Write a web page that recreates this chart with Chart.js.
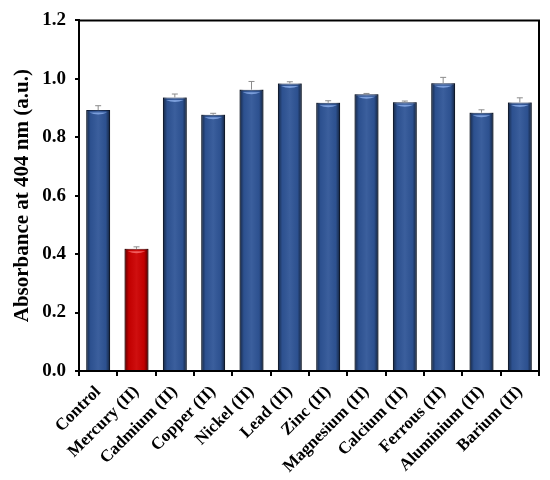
<!DOCTYPE html>
<html>
<head>
<meta charset="utf-8">
<script src="https://cdn.jsdelivr.net/npm/chart.js@4"></script>
<style>
html,body{margin:0;padding:0;background:#fff;}
#wrap{width:550px;height:480px;position:relative;}
</style>
</head>
<body>
<div id="wrap"><canvas id="c" width="550" height="480"></canvas></div>
<script>
const categories = ["Control","Mercury (II)","Cadmium (II)","Copper (II)","Nickel (II)","Lead (II)","Zinc (II)","Magnesium (II)","Calcium (II)","Ferrous (II)","Aluminium (II)","Barium (II)"];
const absorbance = [0.893,0.418,0.936,0.877,0.963,0.984,0.918,0.947,0.920,0.985,0.884,0.919];
const errors = [0.015,0.007,0.012,0.005,0.028,0.006,0.007,0.003,0.004,0.020,0.010,0.016];
const barColors = ["#2f5597","#cc0000","#2f5597","#2f5597","#2f5597","#2f5597","#2f5597","#2f5597","#2f5597","#2f5597","#2f5597","#2f5597"];
const yTicks = [0,0.2,0.4,0.6,0.8,1.0,1.2];

const FONT = "'Liberation Serif','Times New Roman',serif";

const shadePlugin = {
  id: 'shade',
  afterDatasetsDraw(chart) {
    const ctx = chart.ctx;
    const meta = chart.getDatasetMeta(0);
    const ys = chart.scales.y;
    meta.data.forEach((el, i) => {
      const x0 = el.x - el.width / 2, x1 = el.x + el.width / 2;
      const top = el.y, bot = el.base;
      ctx.save();
      const g = ctx.createLinearGradient(x0, 0, x1, 0);
      g.addColorStop(0, 'rgba(0,0,0,0.55)');
      g.addColorStop(0.18, 'rgba(0,0,0,0.05)');
      g.addColorStop(0.5, 'rgba(255,255,255,0.06)');
      g.addColorStop(0.82, 'rgba(0,0,0,0.05)');
      g.addColorStop(1, 'rgba(0,0,0,0.6)');
      ctx.fillStyle = g;
      ctx.fillRect(x0, top, x1 - x0, bot - top);
      const hc = i === 1 ? 'rgba(255,120,120,0.75)' : 'rgba(140,175,235,0.8)';
      ctx.fillStyle = hc;
      ctx.beginPath();
      ctx.moveTo(x0 + 3, top + 2.5);
      ctx.lineTo(x1 - 3, top + 2.5);
      ctx.quadraticCurveTo(el.x, top + 6.5, x0 + 3, top + 2.5);
      ctx.fill();
      const yTop = ys.getPixelForValue(absorbance[i] + errors[i]);
      ctx.strokeStyle = '#8c8c8c';
      ctx.lineWidth = 1;
      ctx.beginPath();
      ctx.moveTo(el.x, top);
      ctx.lineTo(el.x, yTop);
      ctx.moveTo(el.x - 3, yTop);
      ctx.lineTo(el.x + 3, yTop);
      ctx.stroke();
      ctx.restore();
    });
  }
};

const framePlugin = {
  id: 'frame',
  afterDraw(chart) {
    const a = chart.chartArea, ctx = chart.ctx;
    ctx.save();
    ctx.strokeStyle = '#000';
    ctx.lineWidth = 2;
    ctx.beginPath();
    ctx.moveTo(a.left, a.top);
    ctx.lineTo(a.right, a.top);
    ctx.lineTo(a.right, a.bottom);
    ctx.stroke();
    ctx.restore();
  }
};

new Chart(document.getElementById('c'), {
  type: 'bar',
  data: {
    labels: categories,
    datasets: [{
      data: absorbance,
      backgroundColor: barColors,
      borderColor: barColors.map(c => c === '#cc0000' ? '#5a0000' : '#172b50'),
      borderWidth: 1,
      barPercentage: 0.62,
      categoryPercentage: 1.0
    }]
  },
  options: {
    responsive: false,
    animation: false,
    devicePixelRatio: 1,
    layout: { padding: { top: 17, right: 11, left: 0, bottom: 0 } },
    plugins: { legend: { display: false }, tooltip: { enabled: false } },
    scales: {
      x: {
        offset: true,
        grid: { offset: true, drawOnChartArea: false, tickLength: 5, color: '#000', lineWidth: 2 },
        border: { display: true, color: '#000', width: 2 },
        ticks: {
          minRotation: 45, maxRotation: 45, padding: 6, color: '#000',
          font: { family: FONT, size: 17, weight: 'bold' }
        },
        afterFit(s) { s.height = 109; }
      },
      y: {
        min: 0, max: 1.2,
        afterBuildTicks(s) { s.ticks = yTicks.map(v => ({ value: v })); },
        grid: { drawOnChartArea: false, tickLength: 4, color: '#000', lineWidth: 2 },
        border: { display: true, color: '#000', width: 2 },
        ticks: {
          color: '#000', padding: 9,
          font: { family: FONT, size: 19, weight: 'bold' },
          callback: v => Number(v).toFixed(1)
        },
        title: {
          display: true, text: 'Absorbance at 404 nm (a.u.)', color: '#000',
          font: { family: FONT, size: 21, weight: 'bold' }, padding: { top: 10, bottom: 4 }
        },
        afterFit(s) { s.width = 79; }
      }
    }
  },
  plugins: [shadePlugin, framePlugin]
});
</script>
</body>
</html>
